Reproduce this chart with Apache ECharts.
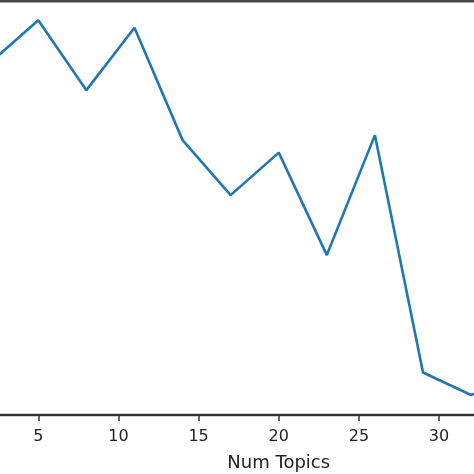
<!DOCTYPE html>
<html>
<head>
<meta charset="utf-8">
<title>Num Topics</title>
<script src="https://cdn.jsdelivr.net/npm/echarts@6/dist/echarts.min.js"></script>
<style>
    html, body { margin: 0; padding: 0; background: #fff; }
    #chart { width: 474px; height: 474px; }
</style>
</head>
<body>
<div id="chart"></div>
<script>
    // 数据：主题数 与 对应的得分（图中只露出一部分）
    var numTopics = [2, 5, 8, 11, 14, 17, 20, 23, 26, 29, 32, 35];
    var scores = [0.533, 0.550, 0.522, 0.547, 0.502, 0.480, 0.497, 0.456, 0.504, 0.409, 0.400, 0.408];
    var xTicks = [0, 5, 10, 15, 20, 25, 30, 35, 40];

    var points = [];
    for (var i = 0; i < numTopics.length; i++) {
        points.push([numTopics[i], scores[i]]);
    }

    var myChart = echarts.init(document.getElementById('chart'), null, { renderer: 'canvas' });
    var option = {
        animation: false,
        backgroundColor: '#fff',
        grid: {
            left: -41.85,
            right: -125.35,
            top: 1.2,
            bottom: 59,
            show: true,
            borderColor: '#4a4a4a',
            borderWidth: 2.4,
            containLabel: false,
            outerBoundsMode: 'none'
        },
        xAxis: {
            type: 'value',
            min: xTicks[0],
            max: xTicks[xTicks.length - 1],
            interval: 5,
            name: 'Num Topics',
            nameLocation: 'middle',
            nameGap: 39,
            nameTextStyle: { fontSize: 18, color: '#222', fontFamily: 'DejaVu Sans' },
            axisLine: { show: true, lineStyle: { color: '#333', width: 1.8 } },
            axisTick: { show: true, length: 6, lineStyle: { color: '#333', width: 1.5 } },
            axisLabel: { fontSize: 16, color: '#222', margin: 14, fontFamily: 'DejaVu Sans' },
            splitLine: { show: false }
        },
        yAxis: {
            type: 'value',
            min: 0.392,
            max: 0.5576,
            show: false,
            splitLine: { show: false }
        },
        series: [{
            type: 'line',
            data: points,
            showSymbol: false,
            symbol: 'none',
            clip: true,
            lineStyle: { color: '#1f77b4', width: 2.6 }
        }]
    };
    myChart.setOption(option);
</script>
</body>
</html>
